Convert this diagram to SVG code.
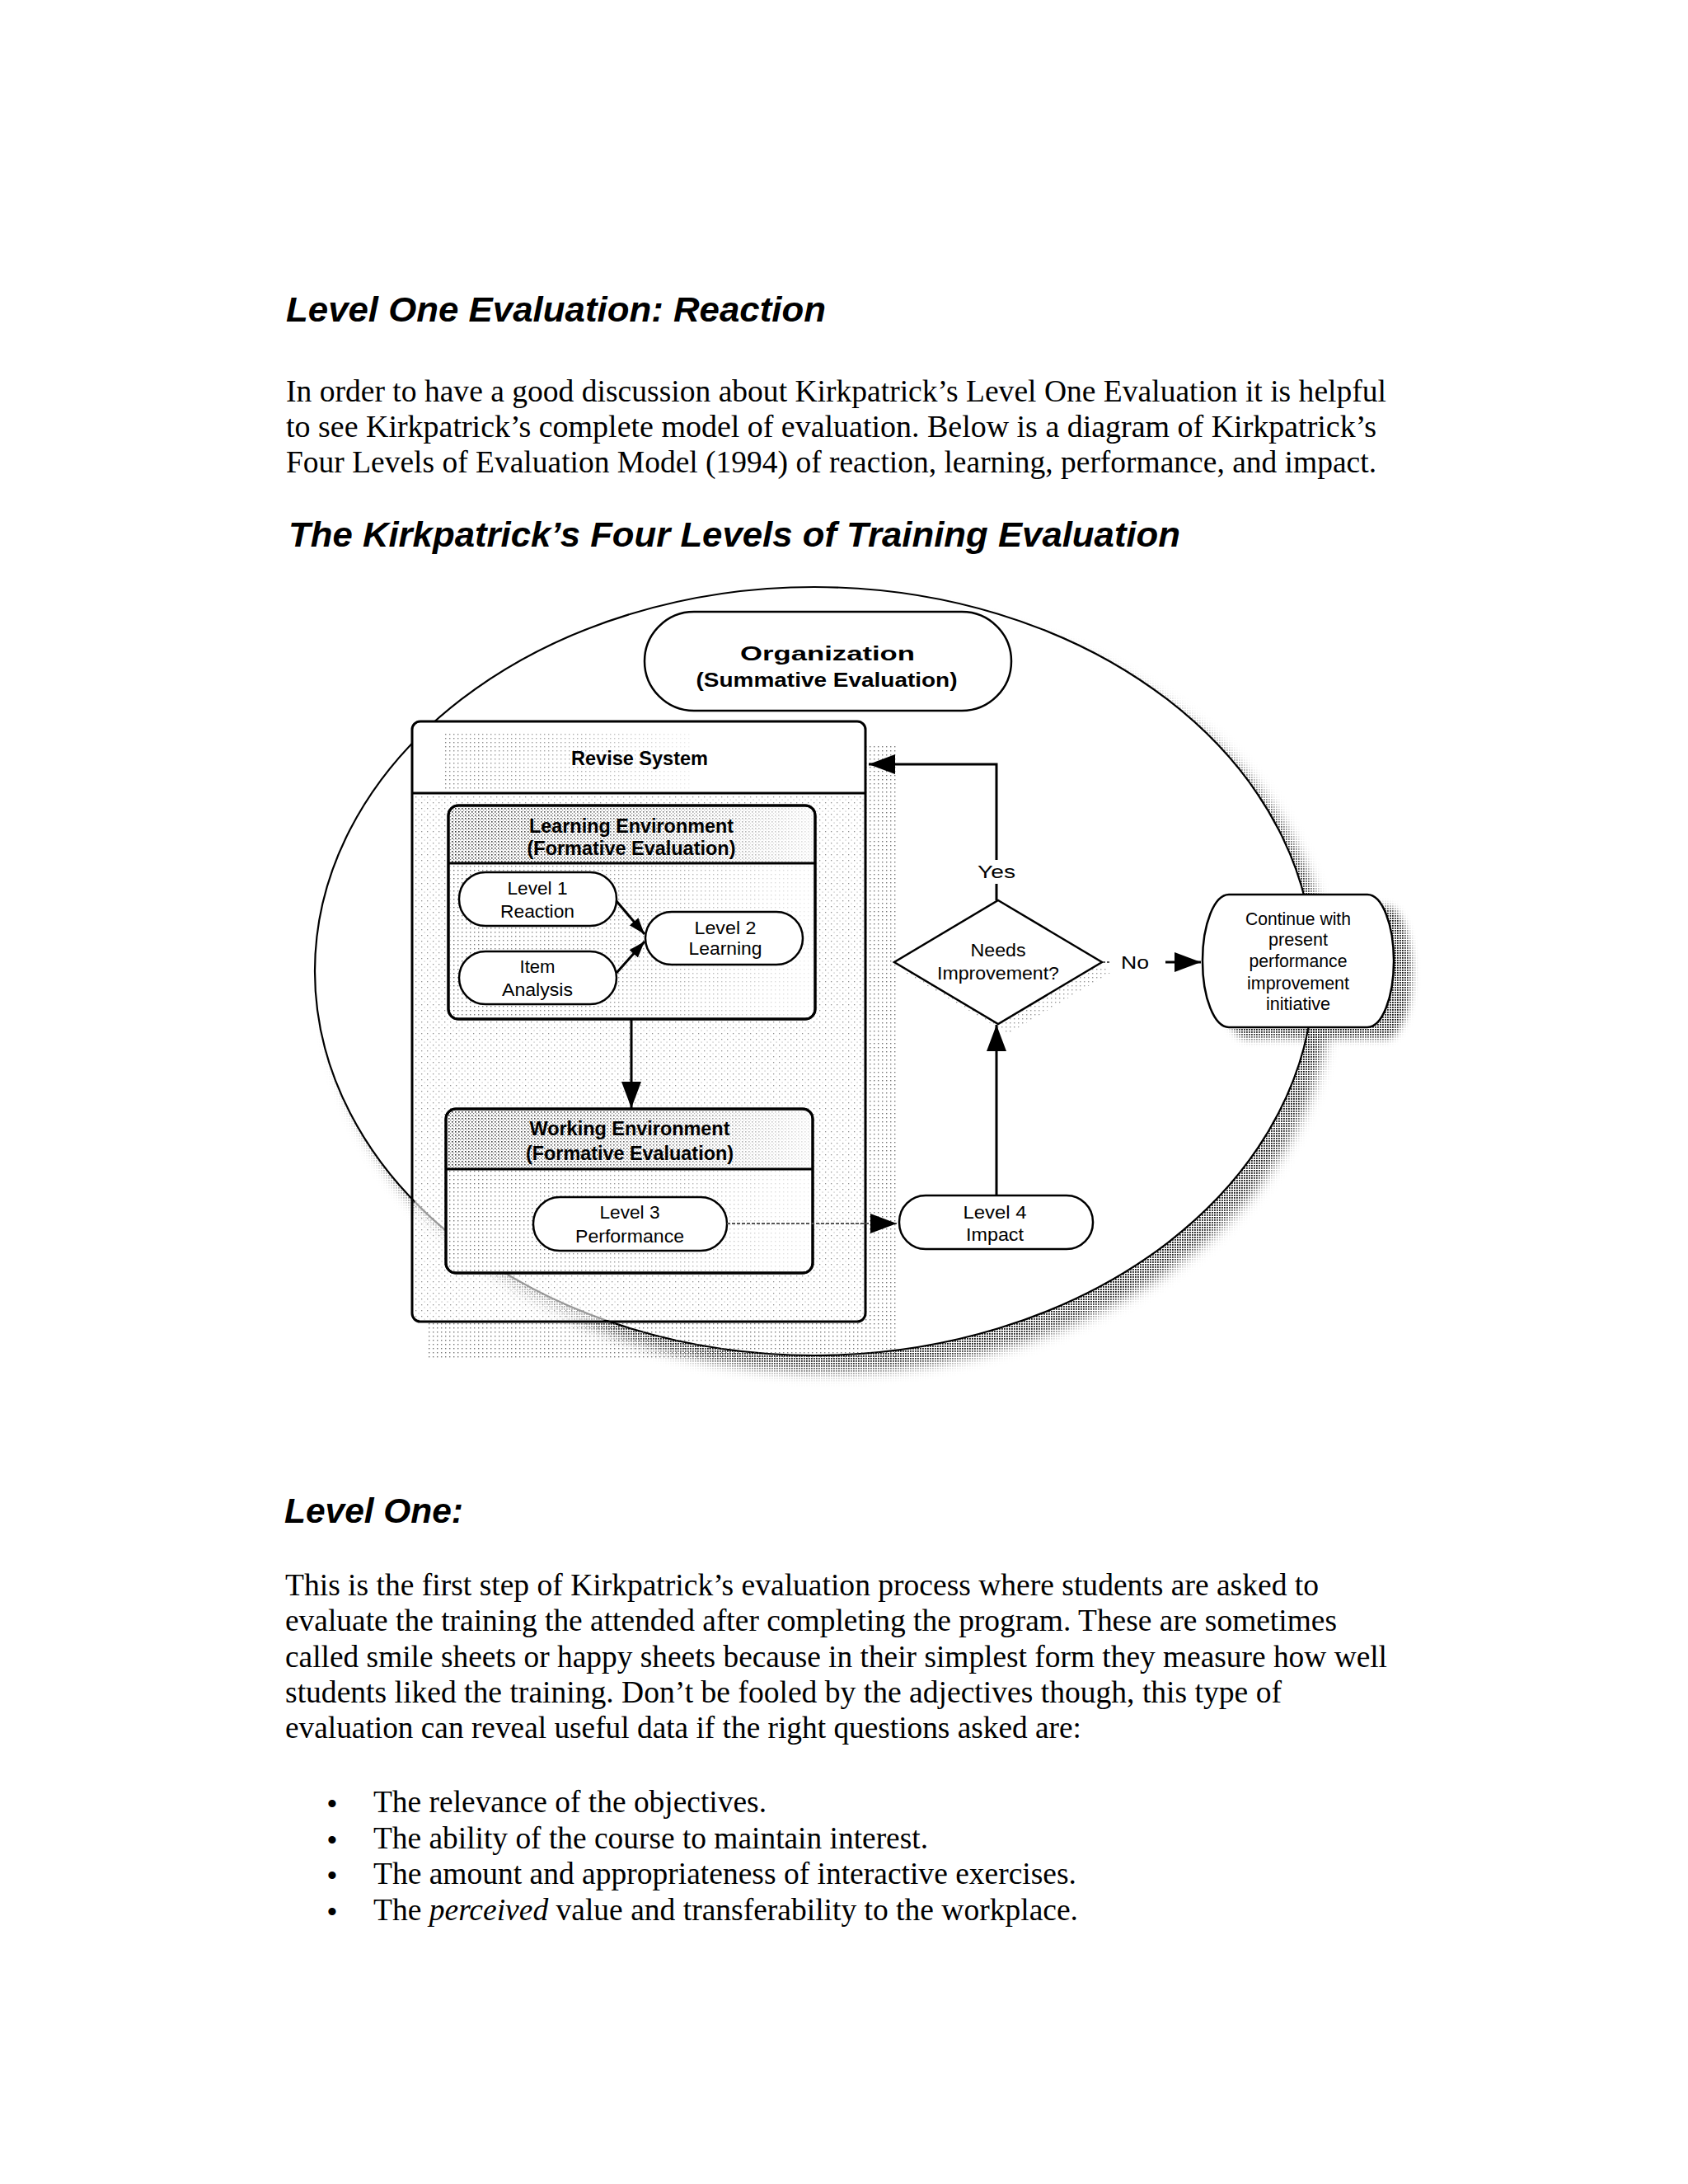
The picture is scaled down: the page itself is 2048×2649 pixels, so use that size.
<svg xmlns="http://www.w3.org/2000/svg" width="2048" height="2649" viewBox="0 0 2048 2649">
<style>
.serif{font-family:"Liberation Serif","Times New Roman",serif;font-size:37px;fill:#000}
.bul{font-family:"Liberation Serif","Times New Roman",serif;font-size:38px;fill:#000;text-anchor:middle}
.head{font-family:"Liberation Sans",Arial,sans-serif;font-size:43px;font-weight:bold;font-style:italic;fill:#000}
.lbl{font-family:"Liberation Sans",Arial,sans-serif;font-size:22.5px;fill:#000;text-anchor:middle}
.blbl{font-family:"Liberation Sans",Arial,sans-serif;font-size:23px;font-weight:bold;fill:#000;text-anchor:middle}
.box{fill:none;stroke:#000;stroke-width:3}
.wbox{fill:#fff;stroke:#000;stroke-width:3}
.stad{fill:#fff;stroke:#000;stroke-width:2.5}
.conn{fill:none;stroke:#000;stroke-width:3}
</style>
<defs>
<pattern id="stipDark" patternUnits="userSpaceOnUse" width="3" height="3"><rect width="1.8" height="1.8" fill="#111"/></pattern>
<pattern id="stipMed" patternUnits="userSpaceOnUse" width="4" height="4"><rect width="1.6" height="1.6" fill="#333"/><rect x="2" y="2" width="1.2" height="1.2" fill="#777"/></pattern>
<pattern id="stipLight" patternUnits="userSpaceOnUse" width="5" height="5"><rect width="1.4" height="1.4" fill="#555"/></pattern>
<pattern id="stipSparse" patternUnits="userSpaceOnUse" width="7" height="7"><rect width="1.3" height="1.3" fill="#777"/><rect x="3.5" y="3.5" width="1.1" height="1.1" fill="#999"/></pattern>
<filter id="blur8" x="-20%" y="-20%" width="140%" height="140%"><feGaussianBlur stdDeviation="8"/></filter>
<filter id="blur5" x="-30%" y="-30%" width="160%" height="160%"><feGaussianBlur stdDeviation="5"/></filter>
<linearGradient id="gR" x1="0" y1="0" x2="1" y2="0"><stop offset="0" stop-color="#fff"/><stop offset="0.55" stop-color="#aaa"/><stop offset="1" stop-color="#222"/></linearGradient>
<mask id="fadeR" maskContentUnits="objectBoundingBox"><rect width="1" height="1" fill="url(#gR)"/></mask>
<mask id="ellShadowMask" maskUnits="userSpaceOnUse" x="0" y="0" width="2048" height="2649">
<ellipse cx="1006" cy="1198" rx="608" ry="466" fill="#fff" filter="url(#blur8)"/>
</mask>
<mask id="contShadowMask" maskUnits="userSpaceOnUse" x="0" y="0" width="2048" height="2649">
<rect x="1481" y="1099" width="232" height="161" rx="32" ry="80" fill="#fff" filter="url(#blur5)"/>
</mask>
<marker id="ah" markerUnits="userSpaceOnUse" markerWidth="34" markerHeight="26" refX="32" refY="12" orient="auto"><path d="M0,0 L32,12 L0,24 Z" fill="#000"/></marker>
<marker id="ahs" markerUnits="userSpaceOnUse" markerWidth="22" markerHeight="16" refX="20" refY="7" orient="auto"><path d="M0,0 L20,7 L0,14 Z" fill="#000"/></marker>
</defs>
<rect width="2048" height="2649" fill="#fff"/>

<g id="page-text">
<text class="head" x="347" y="390" textLength="655" lengthAdjust="spacingAndGlyphs">Level One Evaluation: Reaction</text>
<text class="serif" x="347" y="487" textLength="1335" lengthAdjust="spacingAndGlyphs">In order to have a good discussion about Kirkpatrick’s Level One Evaluation it is helpful</text>
<text class="serif" x="347" y="530" textLength="1323" lengthAdjust="spacingAndGlyphs">to see Kirkpatrick’s complete model of evaluation.  Below is a diagram of Kirkpatrick’s</text>
<text class="serif" x="347" y="573" textLength="1323" lengthAdjust="spacingAndGlyphs">Four Levels of Evaluation Model (1994) of reaction, learning, performance, and impact.</text>
<text class="head" x="350" y="663" textLength="1082" lengthAdjust="spacingAndGlyphs">The Kirkpatrick’s Four Levels of Training Evaluation</text>
<text class="head" x="345" y="1847" textLength="217" lengthAdjust="spacingAndGlyphs">Level One:</text>
<text class="serif" x="346" y="1935" textLength="1254" lengthAdjust="spacingAndGlyphs">This is the first step of Kirkpatrick’s evaluation process where students are asked to</text>
<text class="serif" x="346" y="1978" textLength="1276" lengthAdjust="spacingAndGlyphs">evaluate the training the attended after completing the program. These are sometimes</text>
<text class="serif" x="346" y="2022" textLength="1337" lengthAdjust="spacingAndGlyphs">called smile sheets or happy sheets because in their simplest form they measure how well</text>
<text class="serif" x="346" y="2065" textLength="1209" lengthAdjust="spacingAndGlyphs">students liked the training. Don’t be fooled by the adjectives though, this type of</text>
<text class="serif" x="346" y="2108" textLength="966" lengthAdjust="spacingAndGlyphs">evaluation can reveal useful data if the right questions asked are:</text>
<text class="bul" x="403" y="2201">•</text>
<text class="bul" x="403" y="2245">•</text>
<text class="bul" x="403" y="2288">•</text>
<text class="bul" x="403" y="2332">•</text>
<text class="serif" x="453" y="2198" textLength="477" lengthAdjust="spacingAndGlyphs">The relevance of the objectives.</text>
<text class="serif" x="453" y="2242" textLength="673" lengthAdjust="spacingAndGlyphs">The ability of the course to maintain interest.</text>
<text class="serif" x="453" y="2285" textLength="853" lengthAdjust="spacingAndGlyphs">The amount and appropriateness of interactive exercises.</text>
<text class="serif" x="453" y="2329" textLength="855" lengthAdjust="spacingAndGlyphs">The <tspan font-style="italic">perceived</tspan> value and transferability to the workplace.</text>
</g>

<g id="organization-ellipse">
<rect x="300" y="650" width="1500" height="1120" fill="url(#stipDark)" mask="url(#ellShadowMask)"/>
<ellipse cx="988" cy="1178" rx="606" ry="466" fill="#fff" stroke="#000" stroke-width="2.2"/>
</g>

<g id="revise-system">
<rect x="1050" y="905" width="40" height="700" fill="url(#stipLight)" opacity="0.8"/>
<rect x="520" y="1603" width="570" height="45" fill="url(#stipLight)" opacity="0.8"/>
<rect x="503" y="965" width="545" height="636" fill="#fff" opacity="0.6"/>
<rect x="503" y="965" width="545" height="636" fill="url(#stipSparse)" opacity="0.8"/>
<rect x="500" y="875" width="550" height="87" rx="10" fill="#fff"/>
<rect x="540" y="888" width="300" height="72" fill="url(#stipLight)" mask="url(#fadeR)" opacity="0.7"/>
<rect class="box" x="500" y="875" width="550" height="728" rx="10"/>
<line x1="500" y1="962" x2="1050" y2="962" stroke="#000" stroke-width="3"/>
<text class="blbl" x="776" y="928" textLength="166" lengthAdjust="spacingAndGlyphs">Revise System</text>
</g>

<g id="learning-environment">
<rect class="wbox" x="544" y="977" width="445" height="259" rx="12"/>
<rect x="546" y="979" width="441" height="67" fill="url(#stipMed)" mask="url(#fadeR)"/>
<rect x="546" y="1048" width="441" height="186" fill="url(#stipLight)" mask="url(#fadeR)" opacity="0.8"/>
<rect class="box" x="544" y="977" width="445" height="259" rx="12"/>
<line x1="544" y1="1047" x2="989" y2="1047" stroke="#000" stroke-width="3"/>
<text class="blbl" x="766" y="1010" textLength="248" lengthAdjust="spacingAndGlyphs">Learning Environment</text>
<text class="blbl" x="766" y="1037" textLength="253" lengthAdjust="spacingAndGlyphs">(Formative Evaluation)</text>
</g>

<g id="level1">
<rect class="stad" x="557" y="1058" width="191" height="65" rx="32"/>
<text class="lbl" x="652" y="1085" textLength="73" lengthAdjust="spacingAndGlyphs">Level 1</text>
<text class="lbl" x="652" y="1113" textLength="90" lengthAdjust="spacingAndGlyphs">Reaction</text>
</g>
<g id="item-analysis">
<rect class="stad" x="557" y="1154" width="191" height="64" rx="32"/>
<text class="lbl" x="652" y="1180" textLength="43" lengthAdjust="spacingAndGlyphs">Item</text>
<text class="lbl" x="652" y="1208" textLength="86" lengthAdjust="spacingAndGlyphs">Analysis</text>
</g>
<g id="level2">
<rect class="stad" x="783" y="1106" width="191" height="64" rx="32"/>
<text class="lbl" x="880" y="1133" textLength="75" lengthAdjust="spacingAndGlyphs">Level 2</text>
<text class="lbl" x="880" y="1158" textLength="89" lengthAdjust="spacingAndGlyphs">Learning</text>
</g>

<g id="working-environment">
<rect class="wbox" x="541" y="1345" width="445" height="199" rx="12"/>
<rect x="543" y="1347" width="441" height="70" fill="url(#stipMed)" mask="url(#fadeR)"/>
<rect x="543" y="1420" width="441" height="122" fill="url(#stipLight)" mask="url(#fadeR)" opacity="0.8"/>
<rect class="box" x="541" y="1345" width="445" height="199" rx="12"/>
<line x1="541" y1="1418" x2="986" y2="1418" stroke="#000" stroke-width="3"/>
<text class="blbl" x="764" y="1377" textLength="243" lengthAdjust="spacingAndGlyphs">Working Environment</text>
<text class="blbl" x="764" y="1407" textLength="252" lengthAdjust="spacingAndGlyphs">(Formative Evaluation)</text>
</g>
<g id="level3">
<rect class="stad" x="647" y="1452" width="235" height="65" rx="32"/>
<text class="lbl" x="764" y="1478" textLength="73" lengthAdjust="spacingAndGlyphs">Level 3</text>
<text class="lbl" x="764" y="1507" textLength="132" lengthAdjust="spacingAndGlyphs">Performance</text>
</g>

<g id="organization">
<rect class="stad" x="782" y="742" width="445" height="120" rx="60"/>
<text class="blbl" x="1004" y="801" font-size="35" textLength="212" lengthAdjust="spacingAndGlyphs">Organization</text>
<text class="blbl" x="1003" y="833" font-size="27" textLength="317" lengthAdjust="spacingAndGlyphs">(Summative Evaluation)</text>
</g>

<g id="level4">
<rect class="stad" x="1091" y="1450" width="235" height="65" rx="32"/>
<text class="lbl" x="1207" y="1478" textLength="77" lengthAdjust="spacingAndGlyphs">Level 4</text>
<text class="lbl" x="1207" y="1505" textLength="70" lengthAdjust="spacingAndGlyphs">Impact</text>
</g>

<g id="needs-improvement">
<polygon points="1223,1104 1349,1179 1223,1254 1097,1179" fill="url(#stipLight)" opacity="0.6"/>
<polygon points="1211,1092 1337,1167 1211,1242 1085,1167" fill="#fff" stroke="#000" stroke-width="2.5"/>
<text class="lbl" x="1211" y="1160" font-size="23" textLength="67" lengthAdjust="spacingAndGlyphs">Needs</text>
<text class="lbl" x="1211" y="1188" font-size="23" textLength="148" lengthAdjust="spacingAndGlyphs">Improvement?</text>
</g>

<g id="continue">
<rect x="1450" y="1060" width="300" height="230" fill="url(#stipDark)" mask="url(#contShadowMask)"/>
<rect x="1459" y="1085" width="232" height="161" rx="32" ry="80" fill="#fff" stroke="#000" stroke-width="2.5"/>
<text class="lbl" x="1575" y="1122" font-size="21" textLength="128" lengthAdjust="spacingAndGlyphs">Continue with</text>
<text class="lbl" x="1575" y="1147" font-size="21" textLength="72" lengthAdjust="spacingAndGlyphs">present</text>
<text class="lbl" x="1575" y="1173" font-size="21" textLength="119" lengthAdjust="spacingAndGlyphs">performance</text>
<text class="lbl" x="1575" y="1200" font-size="21" textLength="124" lengthAdjust="spacingAndGlyphs">improvement</text>
<text class="lbl" x="1575" y="1225" font-size="21" textLength="78" lengthAdjust="spacingAndGlyphs">initiative</text>
</g>

<g id="connectors">
<path class="conn" d="M748,1093 L782,1133" stroke-width="2.5" marker-end="url(#ahs)"/>
<path class="conn" d="M748,1180 L782,1142" stroke-width="2.5" marker-end="url(#ahs)"/>
<path class="conn" d="M766,1236 V1344" marker-end="url(#ah)"/>
<path d="M882,1484 H1088" fill="none" stroke="#555" stroke-width="2" stroke-dasharray="4 2" marker-end="url(#ah)"/>
<path class="conn" d="M1209,1450 V1243" marker-end="url(#ah)"/>
<path class="conn" d="M1209,1092 V1072"/>
<path class="conn" d="M1209,1043 V927 H1054" marker-end="url(#ah)"/>
<path d="M1338,1167 H1348" fill="none" stroke="#555" stroke-width="2" stroke-dasharray="3 2"/>
<path class="conn" d="M1414,1167 H1457" stroke-width="2.5" marker-end="url(#ah)"/>
<text class="lbl" x="1209" y="1065" font-size="26" textLength="46" lengthAdjust="spacingAndGlyphs">Yes</text>
<text class="lbl" x="1377" y="1175" font-size="26" textLength="34" lengthAdjust="spacingAndGlyphs">No</text>
</g>
</svg>
